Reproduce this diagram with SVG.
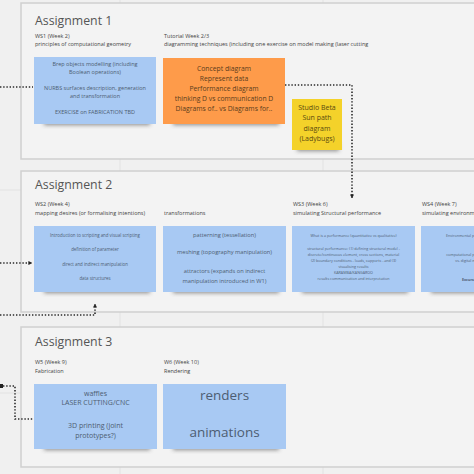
<svg xmlns="http://www.w3.org/2000/svg" width="474" height="474" viewBox="0 0 474 474">
<defs>
<filter id="sh" x="-20%" y="-20%" width="140%" height="160%"><feGaussianBlur stdDeviation="2"/></filter>
<marker id="ah" viewBox="0 0 10 10" refX="9" refY="5" markerWidth="4" markerHeight="4" orient="auto" markerUnits="userSpaceOnUse"><path d="M0,0 L10,5 L0,10 z" fill="#222"/></marker>
</defs>
<style>
text{font-family:"Open Sans","Liberation Sans",sans-serif}
.frame{fill:#f3f3f3;stroke:#cfcfcf;stroke-width:1.5}
.grid{stroke:#e2e2e2;stroke-width:1}
.title{font-size:12.3px;fill:#555}
.sub{font-size:5.5px;fill:#444}
.shadow{fill:#444;opacity:0.6;filter:url(#sh)}
.blue{fill:#a8c9f3}
.orange{fill:#fe9b4a}
.yellow{fill:#f4d22a}
.tb{fill:#4d5d72;text-anchor:middle}
.to{fill:#5a3b1c;text-anchor:middle;font-size:6.8px}
.ty{fill:#5a4a10;text-anchor:middle;font-size:7px}
.conn{fill:none;stroke:#2a2a2a;stroke-width:1.6;stroke-dasharray:1.4 1.8}
</style>
<rect width="474" height="474" fill="#f0f0f0"/>
<g id="grid">
<line class="grid" x1="120" y1="0" x2="120" y2="474"/>
<line class="grid" x1="323" y1="0" x2="323" y2="474"/>
<line class="grid" x1="0" y1="190" x2="474" y2="190"/>
<line class="grid" x1="0" y1="393" x2="474" y2="393"/>
</g>

<g id="assignment1">
<rect class="frame" x="21" y="3" width="470" height="156"/>
<text class="title" x="35" y="25">Assignment 1</text>
</g>
<g id="assignment2">
<rect class="frame" x="21" y="171" width="470" height="141"/>
<text class="title" x="35" y="189">Assignment 2</text>
</g>
<g id="assignment3">
<rect class="frame" x="21" y="327" width="470" height="140"/>
<text class="title" x="35" y="346">Assignment 3</text>
</g>

<g id="ws1">
<text class="sub" x="35" y="38">WS1 (Week 2)</text>
<text class="sub" x="35" y="46">principles of computational geometry</text>
<rect class="shadow" x="44" y="116" width="106" height="9"/>
<rect class="blue" x="34" y="57" width="122" height="67"/>
<g class="tb" font-size="5.5">
<text x="95" y="66">Brep objects modelling (including</text>
<text x="95" y="74">Boolean operations)</text>
<text x="95" y="90">NURBS surfaces description, generation</text>
<text x="95" y="98">and transformation</text>
<text x="95" y="114">EXERCISE on FABRICATION TBD</text>
</g>
</g>

<g id="tutorial">
<text class="sub" x="164" y="38">Tutorial Week 2/3</text>
<text class="sub" x="164" y="46">diagramming techniques (including one exercise on model making (laser cutting</text>
<rect class="shadow" x="173" y="116" width="106" height="9"/>
<rect class="orange" x="163" y="58" width="122" height="66"/>
<text class="to" x="224" y="71">Concept diagram</text>
<text class="to" x="224" y="81">Represent data</text>
<text class="to" x="224" y="91">Performance diagram</text>
<text class="to" x="224" y="101">thinking D vs communication D</text>
<text class="to" x="224" y="111">Diagrams of.. vs Diagrams for..</text>
</g>

<g id="studio-beta">
<rect class="shadow" x="297" y="143" width="42" height="8"/>
<rect class="yellow" x="292" y="99" width="50" height="51"/>
<text class="ty" x="317" y="110">Studio Beta</text>
<text class="ty" x="317" y="120">Sun path</text>
<text class="ty" x="317" y="131">diagram</text>
<text class="ty" x="317" y="141">(Ladybugs)</text>
</g>

<g id="ws2">
<text class="sub" x="35" y="206">WS2 (Week 4)</text>
<text class="sub" x="35" y="215">mapping desires (or formalising intentions)</text>
<rect class="shadow" x="44" y="284" width="106" height="9"/>
<rect class="blue" x="34" y="226" width="122" height="66"/>
<g class="tb" font-size="4.4">
<text x="95" y="237">Introduction to scripting and visual scripting</text>
<text x="95" y="251">definition of parameter</text>
<text x="95" y="266">direct and indirect manipulation</text>
<text x="95" y="280">data structures</text>
</g>
</g>

<g id="transformations">
<text class="sub" x="164" y="215">transformations</text>
<rect class="shadow" x="173" y="284" width="106" height="9"/>
<rect class="blue" x="163" y="226" width="123" height="66"/>
<g class="tb" font-size="5.7" fill="#3d4d66">
<text x="224.5" y="237">patterning (tessellation)</text>
<text x="224.5" y="254">meshing (topography manipulation)</text>
<text x="224.5" y="273">attractors (expands on indirect</text>
<text x="224.5" y="283">manipulation introduced in W1)</text>
</g>
</g>

<g id="ws3">
<text class="sub" x="293" y="206">WS3 (Week 6)</text>
<text class="sub" x="293" y="215">simulating Structural performance</text>
<rect class="shadow" x="302" y="284" width="106" height="9"/>
<rect class="blue" x="292" y="226" width="123" height="66"/>
<g class="tb" font-size="3.7">
<text x="353.5" y="237">What is a performance (quantitative vs qualitative)</text>
<text x="353.5" y="250">structural performance: (1) defining structural model -</text>
<text x="353.5" y="256">discrete/continuous element, cross sections, material</text>
<text x="353.5" y="262">(2) boundary conditions - loads, supports - and (3)</text>
<text x="353.5" y="268">visualising results</text>
<text x="353.5" y="274">KARAMBA/KANGAROO</text>
<text x="353.5" y="280">results communication and interpretation</text>
</g>
</g>

<g id="ws4">
<text class="sub" x="422" y="206">WS4 (Week 7)</text>
<text class="sub" x="422" y="215">simulating environmental performance</text>
<rect class="shadow" x="431" y="284" width="106" height="9"/>
<rect class="blue" x="421" y="226" width="123" height="66"/>
<g class="tb" font-size="3.7">
<text x="482.5" y="237">Environmental performance: what is it and</text>
<text x="482.5" y="243">why?</text>
<text x="482.5" y="256">computational physical simulation models</text>
<text x="482.5" y="262">vs. digital model representation</text>
<text x="482.5" y="268">ladybug</text>
<text x="482.5" y="281" font-weight="bold">Excursion (ground lab)</text>
</g>
</g>

<g id="w5">
<text class="sub" x="35" y="364">W5 (Week 9)</text>
<text class="sub" x="35" y="373">Fabrication</text>
<rect class="shadow" x="44" y="441" width="106" height="9"/>
<rect class="blue" x="34" y="384" width="123" height="65"/>
<g class="tb" font-size="7" fill="#3d4d66">
<text x="95.5" y="396">waffles</text>
<text x="95.5" y="405">LASER CUTTING/CNC</text>
<text x="95.5" y="428">3D printing (joint</text>
<text x="95.5" y="438">prototypes?)</text>
</g>
</g>

<g id="w6">
<text class="sub" x="164" y="364">W6 (Week 10)</text>
<text class="sub" x="164" y="373">Rendering</text>
<rect class="shadow" x="173" y="441" width="106" height="9"/>
<rect class="blue" x="163" y="384" width="123" height="65"/>
<g class="tb" font-size="13.5" fill="#3d4d66">
<text x="224.5" y="400">renders</text>
<text x="224.5" y="437">animations</text>
</g>
</g>

<g id="connectors">
<path class="conn" d="M285,85 H352 V198" marker-end="url(#ah)"/>
<path class="conn" d="M0,87 H33"/>
<path class="conn" d="M0,263 H32" marker-end="url(#ah)"/>
<path class="conn" d="M0,315 H95 V304" marker-end="url(#ah)"/>
<rect x="0" y="384" width="3" height="4" fill="#222"/>
<path class="conn" d="M3,386 H15 V419 H33"/>
</g>
</svg>
